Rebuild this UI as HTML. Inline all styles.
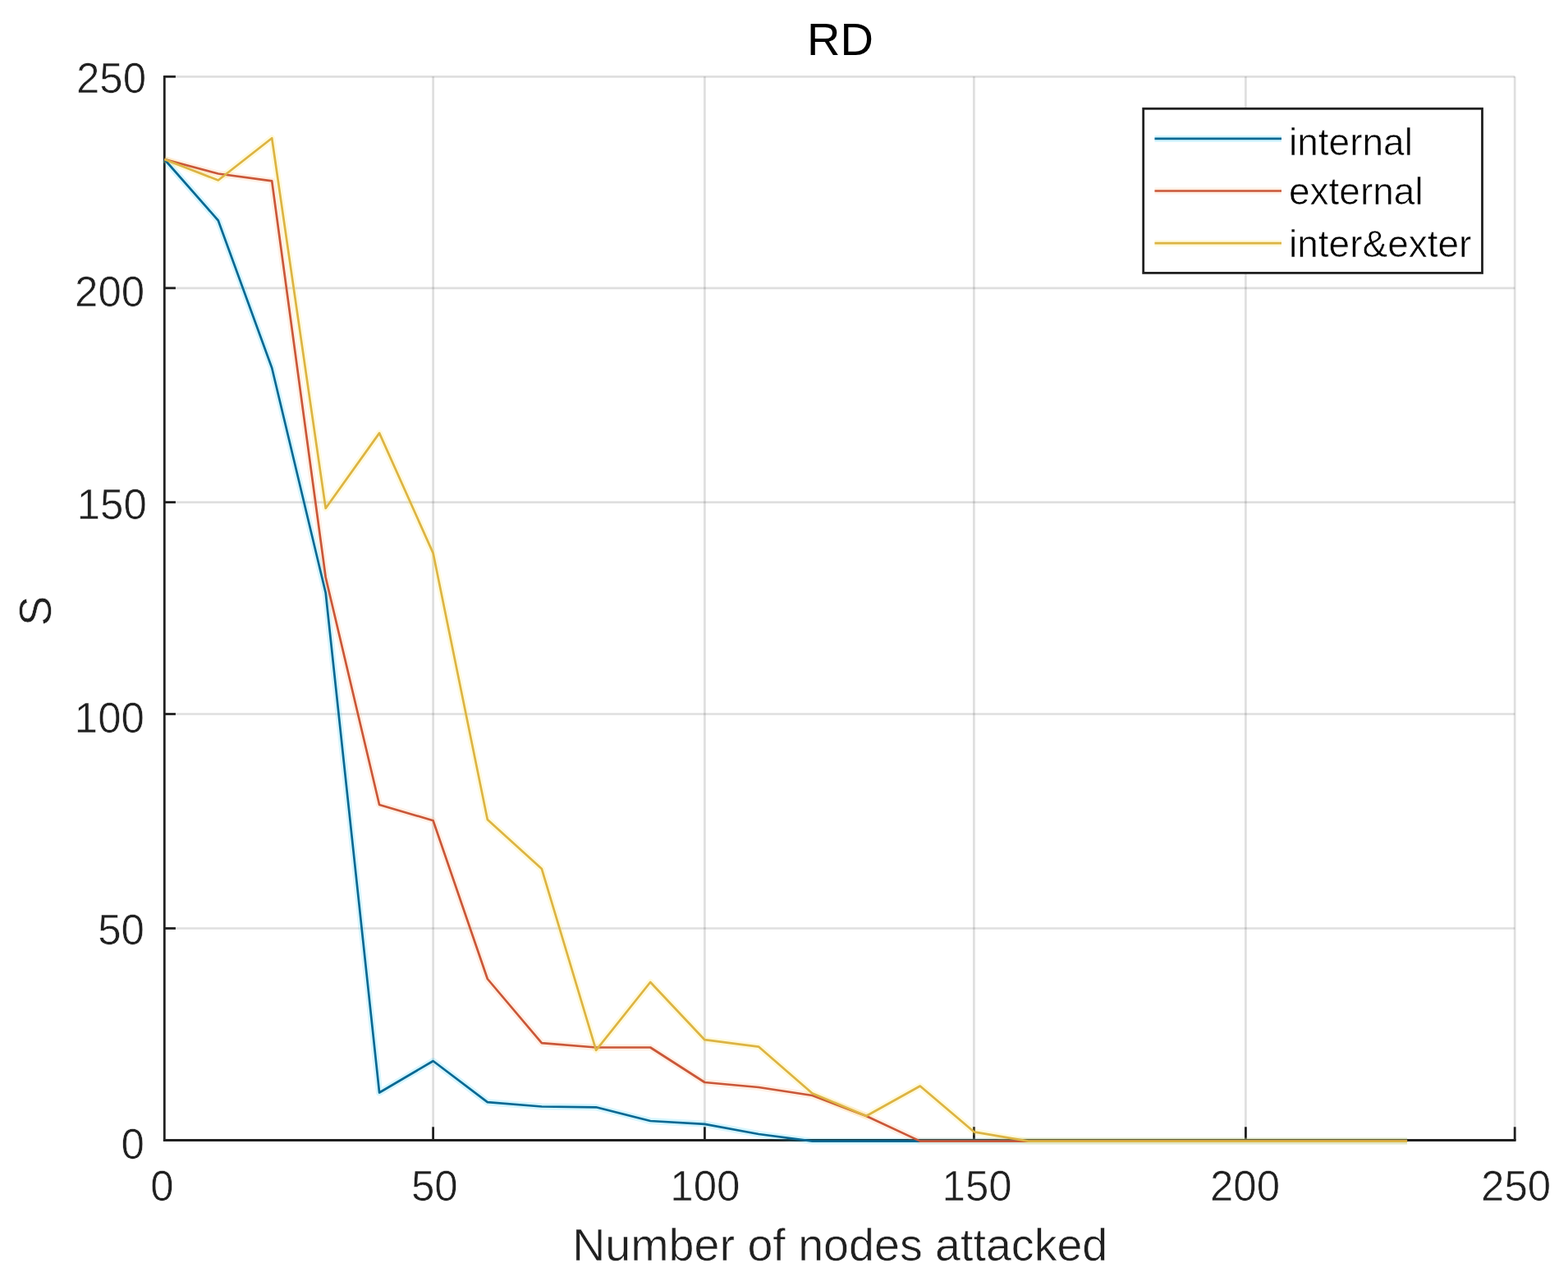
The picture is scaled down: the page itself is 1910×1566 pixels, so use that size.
<!DOCTYPE html>
<html><head><meta charset="utf-8"><title>RD</title>
<style>html,body{margin:0;padding:0;background:#fff;}svg{display:block;}</style>
</head><body>
<svg width="1910" height="1566" viewBox="0 0 1910 1566"><rect x="0" y="0" width="1910" height="1566" fill="#ffffff"/>
<g stroke="rgba(38,38,38,0.15)" stroke-width="2.7" fill="none"><line x1="527.6" y1="93.3" x2="527.6" y2="1388.5"/><line x1="858.4" y1="93.3" x2="858.4" y2="1388.5"/><line x1="1186.4" y1="93.3" x2="1186.4" y2="1388.5"/><line x1="1517.4" y1="93.3" x2="1517.4" y2="1388.5"/><line x1="1845.2" y1="93.3" x2="1845.2" y2="1388.5"/><line x1="200.3" y1="1130.5" x2="1845.2" y2="1130.5"/><line x1="200.3" y1="869.5" x2="1845.2" y2="869.5"/><line x1="200.3" y1="611.6" x2="1845.2" y2="611.6"/><line x1="200.3" y1="350.8" x2="1845.2" y2="350.8"/><line x1="200.3" y1="93.3" x2="1845.2" y2="93.3"/></g>
<g stroke="#202020" stroke-width="2.8" fill="none"><line x1="200.3" y1="91.89999999999999" x2="200.3" y2="1389.9"/><line x1="198.9" y1="1388.5" x2="1846.6000000000001" y2="1388.5"/><line x1="527.6" y1="1388.5" x2="527.6" y2="1372.3"/><line x1="858.4" y1="1388.5" x2="858.4" y2="1372.3"/><line x1="1186.4" y1="1388.5" x2="1186.4" y2="1372.3"/><line x1="1517.4" y1="1388.5" x2="1517.4" y2="1372.3"/><line x1="1845.2" y1="1388.5" x2="1845.2" y2="1372.3"/><line x1="200.3" y1="1130.5" x2="213.9" y2="1130.5"/><line x1="200.3" y1="869.5" x2="213.9" y2="869.5"/><line x1="200.3" y1="611.6" x2="213.9" y2="611.6"/><line x1="200.3" y1="350.8" x2="213.9" y2="350.8"/><line x1="200.3" y1="93.3" x2="213.9" y2="93.3"/></g>
<g fill="none" stroke-width="8" stroke-linejoin="round" stroke-linecap="butt"><polyline stroke="rgba(0,200,255,0.16)" points="200.3,194.0 265.8,268.5 331.2,448.0 396.7,722.0 462.1,1330.5 527.6,1292.0 593.8,1342.2 659.9,1347.5 726.1,1348.3 792.2,1365.0 858.4,1368.8 924.0,1381.0 989.6,1389.6 1055.2,1389.6 1120.8,1389.6 1186.4,1389.6 1252.6,1389.6 1318.8,1389.6 1385.0,1389.6 1451.2,1389.6 1517.4,1389.6 1583.0,1389.6 1648.5,1389.6 1714.1,1389.6"/><polyline stroke="rgba(255,160,90,0.16)" points="200.3,194.0 265.8,211.5 331.2,220.4 396.7,703.0 462.1,980.0 527.6,999.2 593.8,1192.0 659.9,1270.2 726.1,1275.5 792.2,1275.5 858.4,1318.0 924.0,1324.0 989.6,1334.0 1055.2,1359.0 1120.8,1389.6 1186.4,1389.6 1252.6,1389.6 1318.8,1389.6 1385.0,1389.6 1451.2,1389.6 1517.4,1389.6 1583.0,1389.6 1648.5,1389.6 1714.1,1389.6"/><polyline stroke="rgba(255,225,60,0.18)" points="200.3,194.0 265.8,219.5 331.2,168.2 396.7,619.0 462.1,527.4 527.6,673.6 593.8,998.0 659.9,1058.1 726.1,1278.9 792.2,1196.0 858.4,1266.2 924.0,1274.6 989.6,1331.5 1055.2,1359.0 1120.8,1322.5 1186.4,1378.3 1252.6,1389.6 1318.8,1389.6 1385.0,1389.6 1451.2,1389.6 1517.4,1389.6 1583.0,1389.6 1648.5,1389.6 1714.1,1389.6"/></g>
<g fill="none" stroke-width="2.7" stroke-linejoin="round" stroke-linecap="butt"><polyline stroke="#0a6892" points="200.3,194.0 265.8,268.5 331.2,448.0 396.7,722.0 462.1,1330.5 527.6,1292.0 593.8,1342.2 659.9,1347.5 726.1,1348.3 792.2,1365.0 858.4,1368.8 924.0,1381.0 989.6,1389.6 1055.2,1389.6 1120.8,1389.6 1186.4,1389.6 1252.6,1389.6 1318.8,1389.6 1385.0,1389.6 1451.2,1389.6 1517.4,1389.6 1583.0,1389.6 1648.5,1389.6 1714.1,1389.6"/><polyline stroke="#c9573a" points="200.3,194.0 265.8,211.5 331.2,220.4 396.7,703.0 462.1,980.0 527.6,999.2 593.8,1192.0 659.9,1270.2 726.1,1275.5 792.2,1275.5 858.4,1318.0 924.0,1324.0 989.6,1334.0 1055.2,1359.0 1120.8,1389.6 1186.4,1389.6 1252.6,1389.6 1318.8,1389.6 1385.0,1389.6 1451.2,1389.6 1517.4,1389.6 1583.0,1389.6 1648.5,1389.6 1714.1,1389.6"/><polyline stroke="#dcb445" points="200.3,194.0 265.8,219.5 331.2,168.2 396.7,619.0 462.1,527.4 527.6,673.6 593.8,998.0 659.9,1058.1 726.1,1278.9 792.2,1196.0 858.4,1266.2 924.0,1274.6 989.6,1331.5 1055.2,1359.0 1120.8,1322.5 1186.4,1378.3 1252.6,1389.6 1318.8,1389.6 1385.0,1389.6 1451.2,1389.6 1517.4,1389.6 1583.0,1389.6 1648.5,1389.6 1714.1,1389.6"/></g>
<g font-family="'Liberation Sans', Arial, Helvetica, sans-serif" font-size="51" fill="#202020" stroke="#fff" stroke-width="0.6"><text x="175.9" y="1410.7" text-anchor="end">0</text><text x="175.9" y="1150.0" text-anchor="end">50</text><text x="175.9" y="891.8" text-anchor="end">100</text><text x="178.8" y="631.5" text-anchor="end">150</text><text x="176.2" y="373.4" text-anchor="end">200</text><text x="178.1" y="112.5" text-anchor="end">250</text><text x="197.5" y="1462.3" text-anchor="middle">0</text><text x="529.3" y="1462.3" text-anchor="middle">50</text><text x="858.9" y="1462.3" text-anchor="middle">100</text><text x="1190.1" y="1462.3" text-anchor="middle">150</text><text x="1516.5" y="1462.3" text-anchor="middle">200</text><text x="1846.6" y="1462.3" text-anchor="middle">250</text></g>
<text x="1023.4" y="66.9" text-anchor="middle" font-family="'Liberation Sans', Arial, Helvetica, sans-serif" font-size="56" fill="#000">RD</text>
<text x="1023.25" y="1535.3" text-anchor="middle" font-family="'Liberation Sans', Arial, Helvetica, sans-serif" font-size="55.6" fill="#202020" stroke="#fff" stroke-width="0.6">Number of nodes attacked</text>
<text transform="translate(62,744) rotate(-90)" x="0" y="0" text-anchor="middle" font-family="'Liberation Sans', Arial, Helvetica, sans-serif" font-size="55" fill="#202020" stroke="#fff" stroke-width="0.6">S</text>
<rect x="1392.7" y="132.3" width="412.8" height="200.1" fill="#ffffff" stroke="#202020" stroke-width="2.8"/><line x1="1406.5" y1="168.9" x2="1561" y2="168.9" stroke="rgba(0,200,255,0.16)" stroke-width="8"/><line x1="1406.5" y1="168.9" x2="1561" y2="168.9" stroke="#0a6892" stroke-width="2.7"/><text x="1570" y="188.5" font-family="'Liberation Sans', Arial, Helvetica, sans-serif" font-size="46" fill="#000" stroke="#fff" stroke-width="0.6">internal</text><line x1="1406.5" y1="232.5" x2="1561" y2="232.5" stroke="rgba(255,160,90,0.16)" stroke-width="8"/><line x1="1406.5" y1="232.5" x2="1561" y2="232.5" stroke="#c9573a" stroke-width="2.7"/><text x="1570" y="248.8" font-family="'Liberation Sans', Arial, Helvetica, sans-serif" font-size="46" fill="#000" stroke="#fff" stroke-width="0.6">external</text><line x1="1406.5" y1="296.2" x2="1561" y2="296.2" stroke="rgba(255,225,60,0.18)" stroke-width="8"/><line x1="1406.5" y1="296.2" x2="1561" y2="296.2" stroke="#dcb445" stroke-width="2.7"/><text x="1570" y="312.5" font-family="'Liberation Sans', Arial, Helvetica, sans-serif" font-size="46" fill="#000" stroke="#fff" stroke-width="0.6">inter&amp;exter</text></svg>
</body></html>
